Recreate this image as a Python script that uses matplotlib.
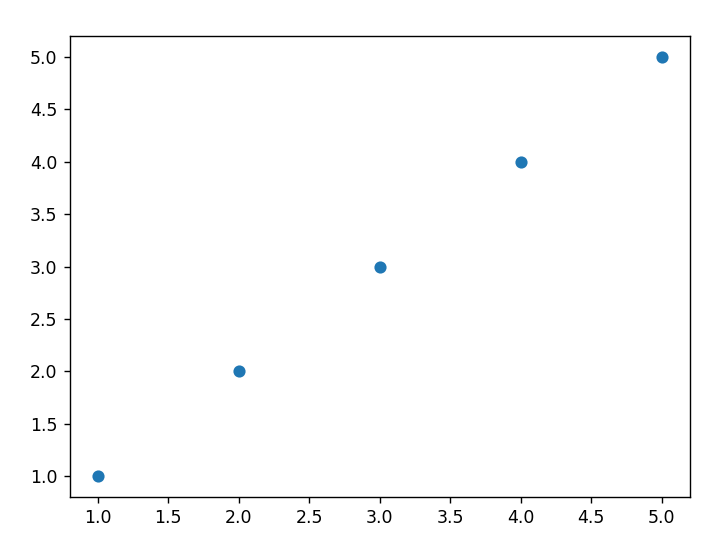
import matplotlib
matplotlib.use("Agg")
import matplotlib.pyplot as plt

x = [1, 2, 3, 4, 5]
y = [1, 2, 3, 4, 5]

DPI = 125
fig = plt.figure(figsize=(719 / DPI, 538 / DPI), dpi=DPI)
ax = fig.add_axes([69.5/719, 1 - 497/538, (690 - 69.5)/719, (497 - 36)/538])
ax.scatter(x, y)
fig.savefig("out.png", dpi=DPI)
